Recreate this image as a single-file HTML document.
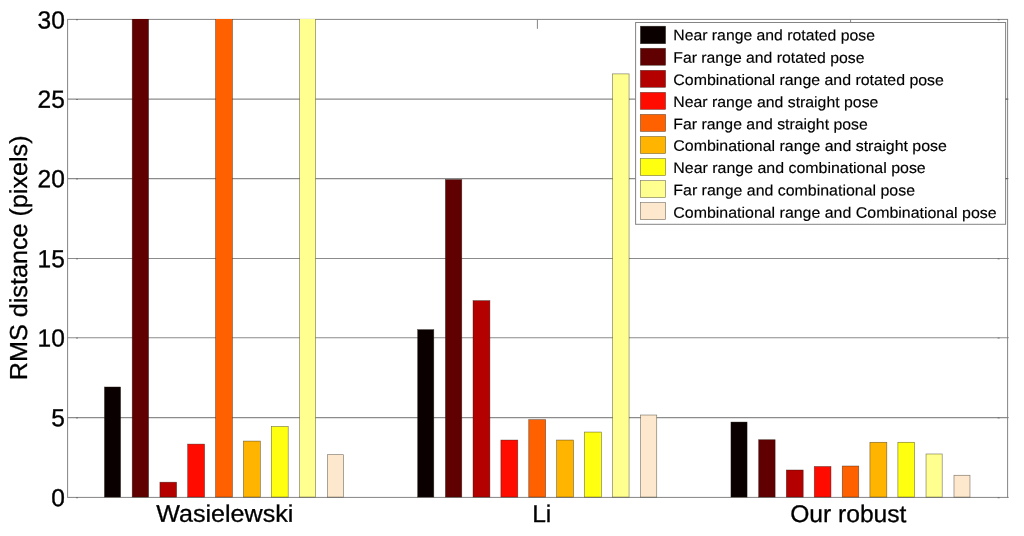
<!DOCTYPE html>
<html lang="en"><head><meta charset="utf-8"><title>RMS distance</title>
<style>
html,body{margin:0;padding:0;background:#fff;}
body{width:1024px;height:536px;overflow:hidden;}
svg{display:block;}
svg text{font-family:"Liberation Sans",Arial,sans-serif;fill:#000;}
</style></head><body>
<svg width="1024" height="536" viewBox="0 0 1024 536">
<rect x="0" y="0" width="1024" height="536" fill="#ffffff"/>
<line x1="67.6" y1="417.60" x2="1007.6" y2="417.60" stroke="#8b8b8b" stroke-width="1.05"/>
<line x1="67.6" y1="337.70" x2="1007.6" y2="337.70" stroke="#8b8b8b" stroke-width="1.05"/>
<line x1="67.6" y1="258.50" x2="1007.6" y2="258.50" stroke="#8b8b8b" stroke-width="1.05"/>
<line x1="67.6" y1="178.60" x2="1007.6" y2="178.60" stroke="#8b8b8b" stroke-width="1.05"/>
<line x1="67.6" y1="99.10" x2="1007.6" y2="99.10" stroke="#8b8b8b" stroke-width="1.05"/>
<rect x="67.6" y="19.4" width="940.0" height="478.0" fill="none" stroke="#848484" stroke-width="1"/>
<clipPath id="plotclip"><rect x="0" y="19.049999999999997" width="1024" height="520"/></clipPath>
<g stroke-width="0.6" stroke-opacity="0.62" clip-path="url(#plotclip)">
<rect x="104.44" y="386.98" width="16.15" height="110.07" fill="#0b0000" stroke="#1e1a10"/>
<rect x="132.19" y="13.40" width="16.40" height="483.65" fill="#600000" stroke="#1e1a10"/>
<rect x="159.91" y="482.18" width="16.70" height="14.87" fill="#b50000" stroke="#1e1a10"/>
<rect x="187.68" y="444.10" width="16.90" height="52.95" fill="#ff0b00" stroke="#1e1a10"/>
<rect x="215.55" y="13.40" width="16.90" height="483.65" fill="#ff6000" stroke="#1e1a10"/>
<rect x="243.42" y="441.08" width="16.90" height="55.97" fill="#ffb500" stroke="#1e1a10"/>
<rect x="271.29" y="426.50" width="16.90" height="70.55" fill="#ffff10" stroke="#1e1a10"/>
<rect x="299.61" y="13.40" width="16.00" height="483.65" fill="#ffff8f" stroke="#1e1a10"/>
<rect x="327.43" y="454.70" width="16.10" height="42.35" fill="#fde8cd" stroke="#1e1a10"/>
<rect x="417.65" y="329.62" width="16.15" height="167.43" fill="#0b0000" stroke="#1e1a10"/>
<rect x="445.39" y="179.53" width="16.40" height="317.52" fill="#600000" stroke="#1e1a10"/>
<rect x="473.01" y="300.62" width="16.90" height="196.43" fill="#b50000" stroke="#1e1a10"/>
<rect x="500.88" y="440.04" width="16.90" height="57.01" fill="#ff0b00" stroke="#1e1a10"/>
<rect x="528.75" y="419.65" width="16.90" height="77.40" fill="#ff6000" stroke="#1e1a10"/>
<rect x="556.62" y="440.04" width="16.90" height="57.01" fill="#ffb500" stroke="#1e1a10"/>
<rect x="584.49" y="432.07" width="16.90" height="64.98" fill="#ffff10" stroke="#1e1a10"/>
<rect x="612.56" y="73.89" width="16.50" height="423.16" fill="#ffff8f" stroke="#1e1a10"/>
<rect x="640.61" y="415.02" width="16.15" height="82.03" fill="#fde8cd" stroke="#1e1a10"/>
<rect x="730.94" y="422.04" width="16.15" height="75.01" fill="#0b0000" stroke="#1e1a10"/>
<rect x="758.64" y="439.72" width="16.50" height="57.33" fill="#600000" stroke="#1e1a10"/>
<rect x="786.31" y="469.99" width="16.90" height="27.06" fill="#b50000" stroke="#1e1a10"/>
<rect x="814.28" y="466.49" width="16.70" height="30.56" fill="#ff0b00" stroke="#1e1a10"/>
<rect x="842.25" y="466.01" width="16.50" height="31.04" fill="#ff6000" stroke="#1e1a10"/>
<rect x="869.92" y="442.27" width="16.90" height="54.78" fill="#ffb500" stroke="#1e1a10"/>
<rect x="897.89" y="442.27" width="16.70" height="54.78" fill="#ffff10" stroke="#1e1a10"/>
<rect x="926.03" y="453.98" width="16.15" height="43.07" fill="#ffff8f" stroke="#1e1a10"/>
<rect x="953.98" y="475.25" width="16.00" height="21.80" fill="#fde8cd" stroke="#1e1a10"/>
</g>
<rect x="76.0" y="497.30" width="2.0" height="1.0" fill="#505050" opacity="0.6"/>
<rect x="997.6" y="497.30" width="2.0" height="1.0" fill="#505050" opacity="0.6"/>
<text transform="translate(64.89999999999999 506.35) rotate(0.03) scale(0.985 1)" font-size="24.9" text-anchor="end" stroke="#000" stroke-width="0.35">0</text>
<rect x="76.0" y="417.50" width="2.0" height="1.0" fill="#505050" opacity="0.6"/>
<rect x="997.6" y="417.50" width="2.0" height="1.0" fill="#505050" opacity="0.6"/>
<text transform="translate(64.89999999999999 426.15) rotate(0.03) scale(0.985 1)" font-size="24.9" text-anchor="end" stroke="#000" stroke-width="0.35">5</text>
<rect x="76.0" y="337.60" width="2.0" height="1.0" fill="#505050" opacity="0.6"/>
<rect x="997.6" y="337.60" width="2.0" height="1.0" fill="#505050" opacity="0.6"/>
<text transform="translate(64.89999999999999 346.40) rotate(0.03) scale(0.985 1)" font-size="24.9" text-anchor="end" stroke="#000" stroke-width="0.35">10</text>
<rect x="76.0" y="258.40" width="2.0" height="1.0" fill="#505050" opacity="0.6"/>
<rect x="997.6" y="258.40" width="2.0" height="1.0" fill="#505050" opacity="0.6"/>
<text transform="translate(64.89999999999999 267.20) rotate(0.03) scale(0.985 1)" font-size="24.9" text-anchor="end" stroke="#000" stroke-width="0.35">15</text>
<rect x="76.0" y="178.50" width="2.0" height="1.0" fill="#505050" opacity="0.6"/>
<rect x="997.6" y="178.50" width="2.0" height="1.0" fill="#505050" opacity="0.6"/>
<text transform="translate(64.89999999999999 187.35) rotate(0.03) scale(0.985 1)" font-size="24.9" text-anchor="end" stroke="#000" stroke-width="0.35">20</text>
<rect x="76.0" y="99.00" width="2.0" height="1.0" fill="#505050" opacity="0.6"/>
<rect x="997.6" y="99.00" width="2.0" height="1.0" fill="#505050" opacity="0.6"/>
<text transform="translate(64.89999999999999 107.80) rotate(0.03) scale(0.985 1)" font-size="24.9" text-anchor="end" stroke="#000" stroke-width="0.35">25</text>
<rect x="76.0" y="19.30" width="2.0" height="1.0" fill="#505050" opacity="0.6"/>
<rect x="997.6" y="19.30" width="2.0" height="1.0" fill="#505050" opacity="0.6"/>
<text transform="translate(64.89999999999999 28.55) rotate(0.03) scale(0.985 1)" font-size="24.9" text-anchor="end" stroke="#000" stroke-width="0.35">30</text>
<line x1="537.4" y1="19.4" x2="537.4" y2="28.799999999999997" stroke="#848484" stroke-width="1"/>
<line x1="850.6" y1="19.4" x2="850.6" y2="28.799999999999997" stroke="#848484" stroke-width="1"/>
<text transform="translate(224.75 521.8) rotate(0.03) scale(1.046 1)" font-size="24.0" text-anchor="middle" stroke="#000" stroke-width="0.3">Wasielewski</text>
<text transform="translate(541.7 522.1) rotate(0.03) scale(1.026 1)" font-size="24.0" text-anchor="middle" stroke="#000" stroke-width="0.3">Li</text>
<text transform="translate(848.3 522.1) rotate(0.03) scale(1.026 1)" font-size="24.0" text-anchor="middle" stroke="#000" stroke-width="0.3">Our robust</text>
<text transform="translate(27.0 257.8) rotate(-89.97) scale(1.024 1)" font-size="24.6" text-anchor="middle" stroke="#000" stroke-width="0.3">RMS distance (pixels)</text>
<rect x="635.6" y="22.5" width="370.0" height="201.8" fill="#ffffff" stroke="#848484" stroke-width="1"/>
<rect x="640.4" y="26.20" width="25.2" height="17.5" fill="#0b0000" stroke="#1e1a10" stroke-width="0.6" stroke-opacity="0.62"/>
<text transform="translate(673.3 40.3) rotate(0.03) scale(1.038 1)" font-size="15.2" stroke="#000" stroke-width="0.15">Near range and rotated pose</text>
<rect x="640.4" y="48.26" width="25.2" height="17.0" fill="#600000" stroke="#1e1a10" stroke-width="0.6" stroke-opacity="0.62"/>
<text transform="translate(673.3 62.8) rotate(0.03) scale(1.038 1)" font-size="15.2" stroke="#000" stroke-width="0.15">Far range and rotated pose</text>
<rect x="640.4" y="70.32" width="25.2" height="17.0" fill="#b50000" stroke="#1e1a10" stroke-width="0.6" stroke-opacity="0.62"/>
<text transform="translate(673.3 85.0) rotate(0.03) scale(1.048 1)" font-size="15.2" stroke="#000" stroke-width="0.15">Combinational range and rotated pose</text>
<rect x="640.4" y="92.38" width="25.2" height="17.0" fill="#ff0b00" stroke="#1e1a10" stroke-width="0.6" stroke-opacity="0.62"/>
<text transform="translate(673.3 107.1) rotate(0.03) scale(1.042 1)" font-size="15.2" stroke="#000" stroke-width="0.15">Near range and straight pose</text>
<rect x="640.4" y="114.44" width="25.2" height="17.0" fill="#ff6000" stroke="#1e1a10" stroke-width="0.6" stroke-opacity="0.62"/>
<text transform="translate(673.3 129.3) rotate(0.03) scale(1.042 1)" font-size="15.2" stroke="#000" stroke-width="0.15">Far range and straight pose</text>
<rect x="640.4" y="136.50" width="25.2" height="17.0" fill="#ffb500" stroke="#1e1a10" stroke-width="0.6" stroke-opacity="0.62"/>
<text transform="translate(673.3 150.85) rotate(0.03) scale(1.0487 1)" font-size="15.2" stroke="#000" stroke-width="0.15">Combinational range and straight pose</text>
<rect x="640.4" y="158.56" width="25.2" height="17.0" fill="#ffff10" stroke="#1e1a10" stroke-width="0.6" stroke-opacity="0.62"/>
<text transform="translate(673.3 172.95) rotate(0.03) scale(1.0492 1)" font-size="15.2" stroke="#000" stroke-width="0.15">Near range and combinational pose</text>
<rect x="640.4" y="180.62" width="25.2" height="17.0" fill="#ffff8f" stroke="#1e1a10" stroke-width="0.6" stroke-opacity="0.62"/>
<text transform="translate(673.3 195.35) rotate(0.03) scale(1.0485 1)" font-size="15.2" stroke="#000" stroke-width="0.15">Far range and combinational pose</text>
<rect x="640.4" y="202.68" width="25.2" height="17.0" fill="#fde8cd" stroke="#1e1a10" stroke-width="0.6" stroke-opacity="0.62"/>
<text transform="translate(673.3 217.75) rotate(0.03) scale(1.0493 1)" font-size="15.2" stroke="#000" stroke-width="0.15">Combinational range and Combinational pose</text>
<rect x="1005.4" y="98.60" width="3.0" height="1.0" fill="#5a5a5a" opacity="0.8"/>
<rect x="1005.4" y="178.10" width="3.0" height="1.0" fill="#5a5a5a" opacity="0.8"/>
<rect x="1007.6" y="258.00" width="1.1" height="1.0" fill="#6a6a6a" opacity="0.8"/>
<rect x="1007.6" y="337.20" width="1.1" height="1.0" fill="#6a6a6a" opacity="0.8"/>
<rect x="1007.6" y="417.10" width="1.1" height="1.0" fill="#6a6a6a" opacity="0.8"/>
<rect x="1007.6" y="496.90" width="1.1" height="1.0" fill="#6a6a6a" opacity="0.8"/>
</svg>
</body></html>
